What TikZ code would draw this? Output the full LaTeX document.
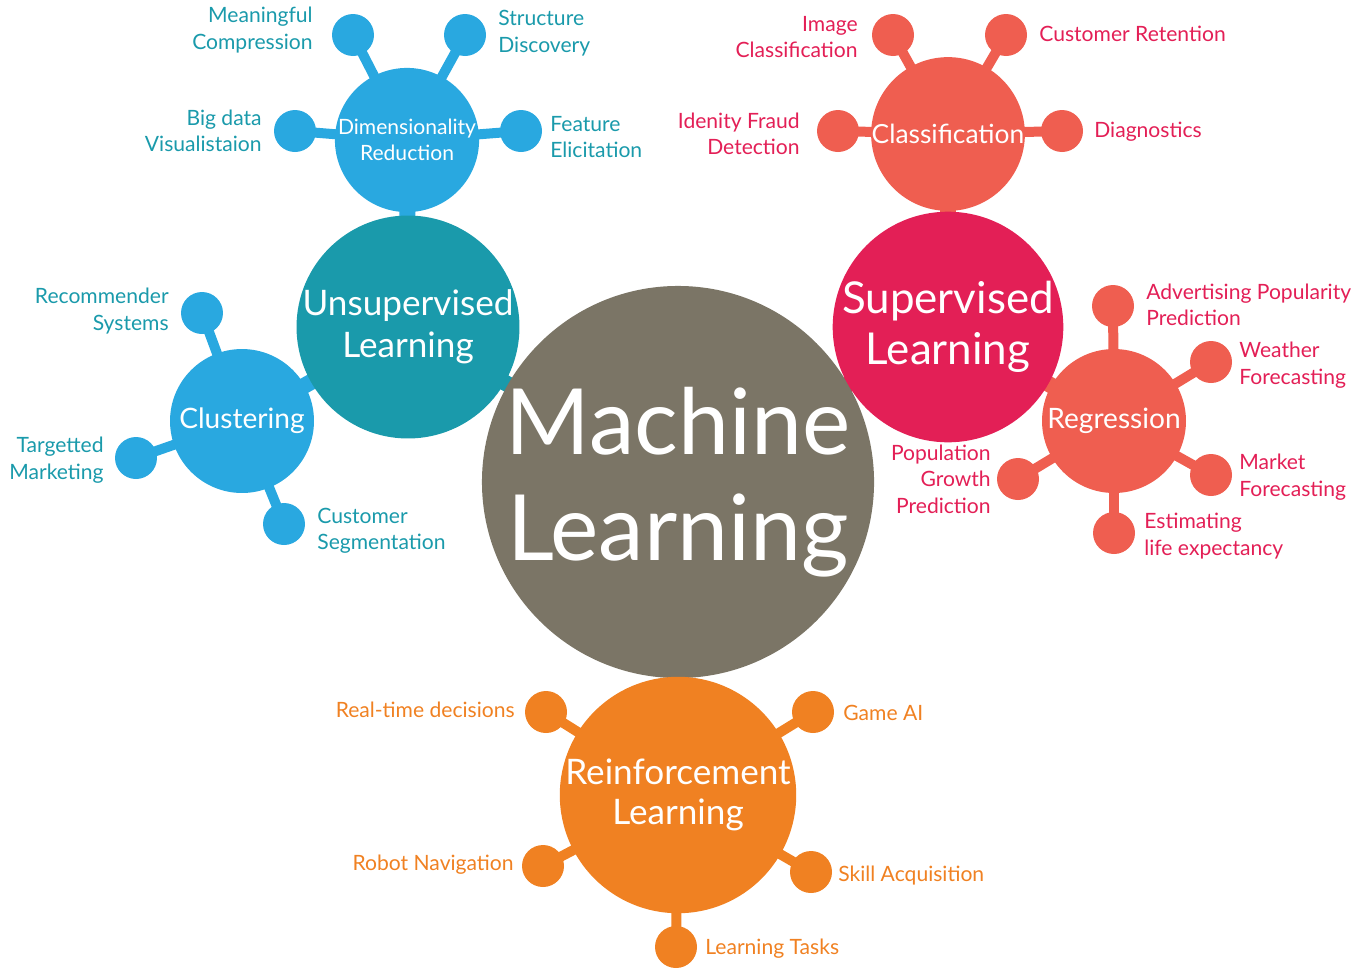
\documentclass[tikz,border=0pt]{standalone}
\usepackage{fontspec}
\setmainfont{Lato}
\usetikzlibrary{backgrounds}
\definecolor{mlgray}{HTML}{7B7566}
\definecolor{unteal}{HTML}{1A9AAB}
\definecolor{unblue}{HTML}{29A8E0}
\definecolor{sucrim}{HTML}{E31F56}
\definecolor{sucoral}{HTML}{EF5E50}
\definecolor{rlorange}{HTML}{F08122}
\tikzset{
  ball/.style={circle, inner sep=0pt, outer sep=0pt, text=white, align=center},
  leaf/.style={circle, inner sep=0pt, outer sep=0pt, minimum size=0.84cm},
  lblL/.style={anchor=east, align=right, font=\fontsize{12}{15}\selectfont, inner sep=0pt},
  lblR/.style={anchor=west, align=left, font=\fontsize{12}{15}\selectfont, inner sep=0pt},
  bar/.style={line width=0.32cm},
  stem/.style={line width=0.2cm}
}
\begin{document}
\begin{tikzpicture}[x=0.02cm, y=-0.02cm]
\useasboundingbox (0,0) rectangle (1358,971);

% hubs
\node (ml) [ball, fill=mlgray, minimum size=7.2cm, font=\fontsize{52}{60}\selectfont] at (678,482) {Machine\\Learning};
\node (unsup) [ball, fill=unteal, minimum size=4.32cm, font=\fontsize{20}{24}\selectfont] at (408,327) {Unsupervised\\Learning};
\node (sup) [ball, fill=sucrim, minimum size=4.32cm, font=\fontsize{25}{29}\selectfont] at (948,327) {Supervised\\Learning};
\node (rl) [ball, fill=rlorange, minimum size=4.32cm, font=\fontsize{20}{23}\selectfont] at (678,795) {Reinforcement\\Learning};
\node (dimred) [ball, fill=unblue, minimum size=2.88cm, font=\fontsize{12}{15}\selectfont] at (407,140) {Dimensionality\\Reduction};
\node (clust) [ball, fill=unblue, minimum size=2.88cm, font=\fontsize{16}{19}\selectfont] at (242,421) {Clustering};
\node (classif) [ball, fill=sucoral, minimum size=2.88cm, font=\fontsize{15}{18}\selectfont] at (948,134) {Classification};
\node (regr) [ball, fill=sucoral, minimum size=2.88cm, font=\fontsize{16}{19}\selectfont] at (1114,421) {Regression};

% leaves
\node (dr1) [leaf, fill=unblue] at (353,35) {};
\node (dr2) [leaf, fill=unblue] at (465,35) {};
\node (dr3) [leaf, fill=unblue] at (295,131) {};
\node (dr4) [leaf, fill=unblue] at (521,131) {};
\node (cl1) [leaf, fill=unblue] at (202,313) {};
\node (cl2) [leaf, fill=unblue] at (136,458) {};
\node (cl3) [leaf, fill=unblue] at (284,524) {};
\node (ca1) [leaf, fill=sucoral] at (893,35) {};
\node (ca2) [leaf, fill=sucoral] at (1006,35) {};
\node (ca3) [leaf, fill=sucoral] at (838,131) {};
\node (ca4) [leaf, fill=sucoral] at (1062,131) {};
\node (re1) [leaf, fill=sucoral] at (1113,306) {};
\node (re2) [leaf, fill=sucoral] at (1211,362) {};
\node (re3) [leaf, fill=sucoral] at (1018,479) {};
\node (re4) [leaf, fill=sucoral] at (1211,475) {};
\node (re5) [leaf, fill=sucoral] at (1114,533) {};
\node (rl1) [leaf, fill=rlorange] at (546,712) {};
\node (rl2) [leaf, fill=rlorange] at (813,712) {};
\node (rl3) [leaf, fill=rlorange] at (543,866) {};
\node (rl4) [leaf, fill=rlorange] at (811,872) {};
\node (rl5) [leaf, fill=rlorange] at (676,947) {};

% labels
\node (tdr1) [lblL, text=unteal] at (313,30) {Meaningful\\Compression};
\node (tdr2) [lblR, text=unteal] at (498,33) {Structure\\Discovery};
\node (tdr3) [lblL, text=unteal] at (262,131) {Big data\\Visualistaion};
\node (tdr4) [lblR, text=unteal] at (550,137) {Feature\\Elicitation};
\node (tcl1) [lblL, text=unteal] at (169,311) {Recommender\\Systems};
\node (tcl2) [lblL, text=unteal] at (104,460) {Targetted\\Marketing};
\node (tcl3) [lblR, text=unteal] at (317,531) {Customer\\Segmentation};
\node (tca1) [lblL, text=sucrim] at (858,37) {Image\\Classification};
\node (tca2) [lblR, text=sucrim] at (1039,34) {Customer Retention};
\node (tca3) [lblL, text=sucrim] at (800,134) {Idenity Fraud\\Detection};
\node (tca4) [lblR, text=sucrim] at (1094,132) {Diagnostics};
\node (tre1) [lblR, text=sucrim] at (1146,305) {Advertising Popularity\\Prediction};
\node (tre2) [lblR, text=sucrim] at (1239,365) {Weather\\Forecasting};
\node (tre3) [lblL, text=sucrim] at (991,479) {Population\\Growth\\Prediction};
\node (tre4) [lblR, text=sucrim] at (1239,477) {Market\\Forecasting};
\node (tre5) [lblR, text=sucrim] at (1144,536) {Estimating\\life expectancy};
\node (trl1) [lblL, text=rlorange] at (515,710) {Real-time decisions};
\node (trl2) [lblR, text=rlorange] at (843,713) {Game AI};
\node (trl3) [lblL, text=rlorange] at (514,865) {Robot Navigation};
\node (trl4) [lblR, text=rlorange] at (838,876) {Skill Acquisition};
\node (trl5) [lblR, text=rlorange] at (705,949) {Learning Tasks};

\begin{scope}[on background layer]
	\draw [bar, unteal] (ml.center) -- (unsup.center);
	\draw [bar, sucrim] (ml.center) -- (sup.center);
	\draw [bar, rlorange] (ml.center) -- (rl.center);
	\draw [bar, unblue] (unsup.center) -- (dimred.center);
	\draw [bar, unblue] (unsup.center) -- (clust.center);
	\draw [bar, sucoral] (sup.center) -- (classif.center);
	\draw [bar, sucoral] (sup.center) -- (regr.center);
	\foreach \l in {dr1,dr2,dr3,dr4} \draw [stem, unblue] (dimred.center) -- (\l.center);
	\foreach \l in {cl1,cl2,cl3} \draw [stem, unblue] (clust.center) -- (\l.center);
	\foreach \l in {ca1,ca2,ca3,ca4} \draw [stem, sucoral] (classif.center) -- (\l.center);
	\foreach \l in {re1,re2,re3,re4,re5} \draw [stem, sucoral] (regr.center) -- (\l.center);
	\foreach \l in {rl1,rl2,rl3,rl4,rl5} \draw [stem, rlorange] (rl.center) -- (\l.center);
\end{scope}

\end{tikzpicture}
\end{document}
